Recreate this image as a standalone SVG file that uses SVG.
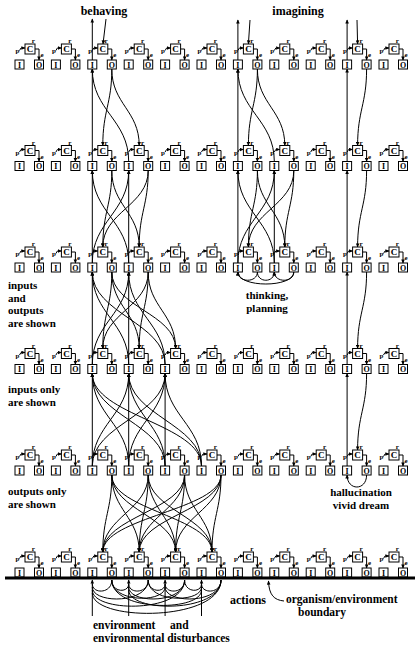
<svg xmlns="http://www.w3.org/2000/svg" width="420" height="650" viewBox="0 0 420 650">
<style>
.box{fill:#fff;stroke:#000;stroke-width:1}
.bx{font-family:"Liberation Serif",serif;font-weight:bold;font-size:8px;text-anchor:middle}
.cx{font-size:9px}
.sm{font-family:"Liberation Serif",serif;font-weight:bold;font-size:7px}
.ln{fill:none;stroke:#000;stroke-width:1}
.a{marker-end:url(#ah)}
.lbl{font-family:"Liberation Serif",serif;font-weight:bold;font-size:12px}
.l2{font-family:"Liberation Serif",serif;font-weight:bold;font-size:11px}
.mid{text-anchor:middle}
</style>
<defs>
<marker id="ah" markerUnits="userSpaceOnUse" markerWidth="4.5" markerHeight="4" viewBox="0 0 10 10" refX="9" refY="5" orient="auto">
<path d="M0,0.5 L10,5 L0,9.5 z" fill="#000"/>
</marker>
<g id="unit">
<rect class="box" x="0" y="0" width="9" height="9"/>
<text class="bx" x="4.5" y="7.6">I</text>
<rect class="box" x="19.5" y="0" width="9" height="9"/>
<text class="bx" x="24" y="7.6">O</text>
<rect class="box" x="10" y="-16" width="10" height="10"/>
<text class="bx cx" x="15" y="-7.8">C</text>
<text class="sm" x="0.5" y="-7">p</text>
<path class="ln a" d="M4.5,-9.5 L6,-12 L10,-12"/>
<text class="sm" x="16.8" y="-17">r</text>
<path class="ln a" d="M20,-11 H24 V0"/>
<text class="sm" x="25.5" y="-3">e</text>
</g>
</defs>
<rect width="420" height="650" fill="#fff"/>
<g id="connectors">
<path class="ln a" d="M92.3,60 V19"/>
<path class="ln a" d="M106,19 L103,44"/>
<path class="ln a" d="M237.9,60 V20"/>
<path class="ln a" d="M250,20 L248.4,44"/>
<path class="ln a" d="M347.1,60 V20"/>
<path class="ln a" d="M357,20 L357.6,44"/>
<path class="ln a" d="M92.3,161.5 V69"/>
<path class="ln a" d="M128.7,161.5 C128.7,119.5 92.3,111 92.3,69"/>
<path class="ln a" d="M111.8,69 C111.8,104 102.8,110.5 102.8,145.5"/>
<path class="ln a" d="M111.8,69 C111.8,104 139.2,110.5 139.2,145.5"/>
<path class="ln a" d="M237.9,161.5 V69"/>
<path class="ln a" d="M274.3,161.5 C274.3,119.5 237.9,111 237.9,69"/>
<path class="ln a" d="M257.4,69 C257.4,104 248.4,110.5 248.4,145.5"/>
<path class="ln a" d="M257.4,69 C257.4,104 284.8,110.5 284.8,145.5"/>
<path class="ln a" d="M347.1,161.5 V69"/>
<path class="ln a" d="M366.6,69 C366.6,104 357.6,110.5 357.6,145.5"/>
<path class="ln a" d="M92.3,263 V170.5"/>
<path class="ln a" d="M128.7,263 C128.7,221 92.3,212.5 92.3,170.5"/>
<path class="ln a" d="M92.3,263 C92.3,221 128.7,212.5 128.7,170.5"/>
<path class="ln a" d="M128.7,263 V170.5"/>
<path class="ln a" d="M111.8,170.5 C111.8,205.5 102.8,212 102.8,247"/>
<path class="ln a" d="M111.8,170.5 C111.8,205.5 139.2,212 139.2,247"/>
<path class="ln a" d="M148.2,170.5 C148.2,205.5 102.8,212 102.8,247"/>
<path class="ln a" d="M148.2,170.5 C148.2,205.5 139.2,212 139.2,247"/>
<path class="ln a" d="M237.9,263 V170.5"/>
<path class="ln a" d="M274.3,263 C274.3,221 237.9,212.5 237.9,170.5"/>
<path class="ln a" d="M237.9,263 C237.9,221 274.3,212.5 274.3,170.5"/>
<path class="ln a" d="M274.3,263 V170.5"/>
<path class="ln a" d="M257.4,170.5 C257.4,205.5 248.4,212 248.4,247"/>
<path class="ln a" d="M257.4,170.5 C257.4,205.5 284.8,212 284.8,247"/>
<path class="ln a" d="M293.8,170.5 C293.8,205.5 248.4,212 248.4,247"/>
<path class="ln a" d="M293.8,170.5 C293.8,205.5 284.8,212 284.8,247"/>
<path class="ln a" d="M347.1,263 V170.5"/>
<path class="ln a" d="M366.6,170.5 C366.6,205.5 357.6,212 357.6,247"/>
<path class="ln a" d="M257.4,272 C257.4,283 237.9,283 237.9,272"/>
<path class="ln a" d="M257.4,272 C257.4,283 274.3,283 274.3,272"/>
<path class="ln a" d="M293.8,272 C293.8,283 274.3,283 274.3,272"/>
<path class="ln a" d="M293.8,272 C293.8,288 237.9,288 237.9,272"/>
<path class="ln a" d="M92.3,364.5 V272"/>
<path class="ln a" d="M128.7,364.5 C128.7,322.5 92.3,314 92.3,272"/>
<path class="ln a" d="M165.1,364.5 C165.1,322.5 92.3,314 92.3,272"/>
<path class="ln a" d="M92.3,364.5 C92.3,322.5 128.7,314 128.7,272"/>
<path class="ln a" d="M128.7,364.5 V272"/>
<path class="ln a" d="M165.1,364.5 C165.1,322.5 128.7,314 128.7,272"/>
<path class="ln a" d="M111.8,272 C111.8,307 102.8,313.5 102.8,348.5"/>
<path class="ln a" d="M111.8,272 C111.8,307 139.2,313.5 139.2,348.5"/>
<path class="ln a" d="M111.8,272 C111.8,307 175.6,313.5 175.6,348.5"/>
<path class="ln a" d="M148.2,272 C148.2,307 102.8,313.5 102.8,348.5"/>
<path class="ln a" d="M148.2,272 C148.2,307 139.2,313.5 139.2,348.5"/>
<path class="ln a" d="M148.2,272 C148.2,307 175.6,313.5 175.6,348.5"/>
<path class="ln a" d="M347.1,364.5 V272"/>
<path class="ln a" d="M366.6,272 C366.6,307 357.6,313.5 357.6,348.5"/>
<path class="ln a" d="M92.3,466 V373.5"/>
<path class="ln a" d="M128.7,466 C128.7,424 92.3,415.5 92.3,373.5"/>
<path class="ln a" d="M165.1,466 C165.1,424 92.3,415.5 92.3,373.5"/>
<path class="ln a" d="M201.5,466 C201.5,424 92.3,415.5 92.3,373.5"/>
<path class="ln a" d="M92.3,466 C92.3,424 128.7,415.5 128.7,373.5"/>
<path class="ln a" d="M128.7,466 V373.5"/>
<path class="ln a" d="M165.1,466 C165.1,424 128.7,415.5 128.7,373.5"/>
<path class="ln a" d="M201.5,466 C201.5,424 128.7,415.5 128.7,373.5"/>
<path class="ln a" d="M92.3,466 C92.3,424 165.1,415.5 165.1,373.5"/>
<path class="ln a" d="M128.7,466 C128.7,424 165.1,415.5 165.1,373.5"/>
<path class="ln a" d="M165.1,466 V373.5"/>
<path class="ln a" d="M201.5,466 C201.5,424 165.1,415.5 165.1,373.5"/>
<path class="ln a" d="M347.1,466 V373.5"/>
<path class="ln a" d="M366.6,373.5 C366.6,408.5 357.6,415 357.6,450"/>
<path class="ln a" d="M111.8,475 C111.8,510 102.8,517 102.8,552"/>
<path class="ln a" d="M111.8,475 C111.8,510 139.2,517 139.2,552"/>
<path class="ln a" d="M111.8,475 C111.8,510 175.6,517 175.6,552"/>
<path class="ln a" d="M111.8,475 C111.8,510 212,517 212,552"/>
<path class="ln a" d="M148.2,475 C148.2,510 102.8,517 102.8,552"/>
<path class="ln a" d="M148.2,475 C148.2,510 139.2,517 139.2,552"/>
<path class="ln a" d="M148.2,475 C148.2,510 175.6,517 175.6,552"/>
<path class="ln a" d="M148.2,475 C148.2,510 212,517 212,552"/>
<path class="ln a" d="M184.6,475 C184.6,510 102.8,517 102.8,552"/>
<path class="ln a" d="M184.6,475 C184.6,510 139.2,517 139.2,552"/>
<path class="ln a" d="M184.6,475 C184.6,510 175.6,517 175.6,552"/>
<path class="ln a" d="M184.6,475 C184.6,510 212,517 212,552"/>
<path class="ln a" d="M221,475 C221,510 102.8,517 102.8,552"/>
<path class="ln a" d="M221,475 C221,510 139.2,517 139.2,552"/>
<path class="ln a" d="M221,475 C221,510 175.6,517 175.6,552"/>
<path class="ln a" d="M221,475 C221,510 212,517 212,552"/>
<path class="ln a" d="M366.6,475 C366.6,491 347.1,491 347.1,475"/>
<path class="ln a" d="M92.3,616 V580"/>
<path class="ln a" d="M128.7,616 V580"/>
<path class="ln a" d="M165.1,616 V580"/>
<path class="ln a" d="M201.5,616 V580"/>
<path class="ln" d="M111.8,580 C111.8,594 92.3,594 92.3,584"/>
<path class="ln" d="M111.8,580 C111.8,593 128.7,593 128.7,584"/>
<path class="ln" d="M111.8,580 C111.8,603 165.1,603 165.1,587"/>
<path class="ln" d="M111.8,580 C111.8,612 201.5,612 201.5,590"/>
<path class="ln" d="M148.2,580 C148.2,604 92.3,604 92.3,587"/>
<path class="ln" d="M148.2,580 C148.2,594 128.7,594 128.7,584"/>
<path class="ln" d="M148.2,580 C148.2,593 165.1,593 165.1,584"/>
<path class="ln" d="M148.2,580 C148.2,603 201.5,603 201.5,587"/>
<path class="ln" d="M184.6,580 C184.6,613 92.3,613 92.3,590"/>
<path class="ln" d="M184.6,580 C184.6,604 128.7,604 128.7,587"/>
<path class="ln" d="M184.6,580 C184.6,594 165.1,594 165.1,584"/>
<path class="ln" d="M184.6,580 C184.6,593 201.5,593 201.5,584"/>
<path class="ln" d="M221,580 C221,622 92.3,622 92.3,593"/>
<path class="ln" d="M221,580 C221,613 128.7,613 128.7,590"/>
<path class="ln" d="M221,580 C221,604 165.1,604 165.1,587"/>
<path class="ln" d="M221,580 C221,594 201.5,594 201.5,584"/>
<path class="ln a" d="M284,601 C274,600 269,595 268.5,581"/>
</g>
<g id="nodes">
<g id="r1u0"><use href="#unit" x="15" y="60"/></g>
<g id="r1u1"><use href="#unit" x="51.4" y="60"/></g>
<g id="r1u2"><use href="#unit" x="87.8" y="60"/></g>
<g id="r1u3"><use href="#unit" x="124.2" y="60"/></g>
<g id="r1u4"><use href="#unit" x="160.6" y="60"/></g>
<g id="r1u5"><use href="#unit" x="197" y="60"/></g>
<g id="r1u6"><use href="#unit" x="233.4" y="60"/></g>
<g id="r1u7"><use href="#unit" x="269.8" y="60"/></g>
<g id="r1u8"><use href="#unit" x="306.2" y="60"/></g>
<g id="r1u9"><use href="#unit" x="342.6" y="60"/></g>
<g id="r1u10"><use href="#unit" x="379" y="60"/></g>
<g id="r2u0"><use href="#unit" x="15" y="161.5"/></g>
<g id="r2u1"><use href="#unit" x="51.4" y="161.5"/></g>
<g id="r2u2"><use href="#unit" x="87.8" y="161.5"/></g>
<g id="r2u3"><use href="#unit" x="124.2" y="161.5"/></g>
<g id="r2u4"><use href="#unit" x="160.6" y="161.5"/></g>
<g id="r2u5"><use href="#unit" x="197" y="161.5"/></g>
<g id="r2u6"><use href="#unit" x="233.4" y="161.5"/></g>
<g id="r2u7"><use href="#unit" x="269.8" y="161.5"/></g>
<g id="r2u8"><use href="#unit" x="306.2" y="161.5"/></g>
<g id="r2u9"><use href="#unit" x="342.6" y="161.5"/></g>
<g id="r2u10"><use href="#unit" x="379" y="161.5"/></g>
<g id="r3u0"><use href="#unit" x="15" y="263"/></g>
<g id="r3u1"><use href="#unit" x="51.4" y="263"/></g>
<g id="r3u2"><use href="#unit" x="87.8" y="263"/></g>
<g id="r3u3"><use href="#unit" x="124.2" y="263"/></g>
<g id="r3u4"><use href="#unit" x="160.6" y="263"/></g>
<g id="r3u5"><use href="#unit" x="197" y="263"/></g>
<g id="r3u6"><use href="#unit" x="233.4" y="263"/></g>
<g id="r3u7"><use href="#unit" x="269.8" y="263"/></g>
<g id="r3u8"><use href="#unit" x="306.2" y="263"/></g>
<g id="r3u9"><use href="#unit" x="342.6" y="263"/></g>
<g id="r3u10"><use href="#unit" x="379" y="263"/></g>
<g id="r4u0"><use href="#unit" x="15" y="364.5"/></g>
<g id="r4u1"><use href="#unit" x="51.4" y="364.5"/></g>
<g id="r4u2"><use href="#unit" x="87.8" y="364.5"/></g>
<g id="r4u3"><use href="#unit" x="124.2" y="364.5"/></g>
<g id="r4u4"><use href="#unit" x="160.6" y="364.5"/></g>
<g id="r4u5"><use href="#unit" x="197" y="364.5"/></g>
<g id="r4u6"><use href="#unit" x="233.4" y="364.5"/></g>
<g id="r4u7"><use href="#unit" x="269.8" y="364.5"/></g>
<g id="r4u8"><use href="#unit" x="306.2" y="364.5"/></g>
<g id="r4u9"><use href="#unit" x="342.6" y="364.5"/></g>
<g id="r4u10"><use href="#unit" x="379" y="364.5"/></g>
<g id="r5u0"><use href="#unit" x="15" y="466"/></g>
<g id="r5u1"><use href="#unit" x="51.4" y="466"/></g>
<g id="r5u2"><use href="#unit" x="87.8" y="466"/></g>
<g id="r5u3"><use href="#unit" x="124.2" y="466"/></g>
<g id="r5u4"><use href="#unit" x="160.6" y="466"/></g>
<g id="r5u5"><use href="#unit" x="197" y="466"/></g>
<g id="r5u6"><use href="#unit" x="233.4" y="466"/></g>
<g id="r5u7"><use href="#unit" x="269.8" y="466"/></g>
<g id="r5u8"><use href="#unit" x="306.2" y="466"/></g>
<g id="r5u9"><use href="#unit" x="342.6" y="466"/></g>
<g id="r5u10"><use href="#unit" x="379" y="466"/></g>
<g id="r6u0"><use href="#unit" x="15" y="568"/></g>
<g id="r6u1"><use href="#unit" x="51.4" y="568"/></g>
<g id="r6u2"><use href="#unit" x="87.8" y="568"/></g>
<g id="r6u3"><use href="#unit" x="124.2" y="568"/></g>
<g id="r6u4"><use href="#unit" x="160.6" y="568"/></g>
<g id="r6u5"><use href="#unit" x="197" y="568"/></g>
<g id="r6u6"><use href="#unit" x="233.4" y="568"/></g>
<g id="r6u7"><use href="#unit" x="269.8" y="568"/></g>
<g id="r6u8"><use href="#unit" x="306.2" y="568"/></g>
<g id="r6u9"><use href="#unit" x="342.6" y="568"/></g>
<g id="r6u10"><use href="#unit" x="379" y="568"/></g>
</g>
<g id="boundary">
<line x1="5" y1="578" x2="415" y2="578" stroke="#000" stroke-width="3"/>
</g>
<g id="labels">
<text class="lbl mid" x="104" y="15">behaving</text>
<text class="lbl mid" x="298" y="15">imagining</text>
<text class="l2 mid" x="267" y="299">thinking,</text>
<text class="l2 mid" x="267" y="311.5">planning</text>
<text class="l2 mid" x="361" y="496">hallucination</text>
<text class="l2 mid" x="361" y="508.5">vivid dream</text>
<text class="l2" x="8" y="289">inputs</text>
<text class="l2" x="8" y="301.5">and</text>
<text class="l2" x="8" y="314">outputs</text>
<text class="l2" x="8" y="326.5">are shown</text>
<text class="l2" x="8" y="393">inputs only</text>
<text class="l2" x="8" y="405.5">are shown</text>
<text class="l2" x="8" y="495">outputs only</text>
<text class="l2" x="8" y="507.5">are shown</text>
<text class="l2" style="font-size:11.5px"><tspan x="93" y="629">environment</tspan><tspan x="170" y="629">and</tspan></text>
<text class="l2" style="font-size:11.5px" x="93" y="642">environmental disturbances</text>
<text class="lbl" x="230" y="604">actions</text>
<text class="l2" style="font-size:11.5px" x="286" y="603">organism/environment</text>
<text class="l2" style="font-size:11.5px" x="298" y="615.5">boundary</text>
</g>
</svg>
